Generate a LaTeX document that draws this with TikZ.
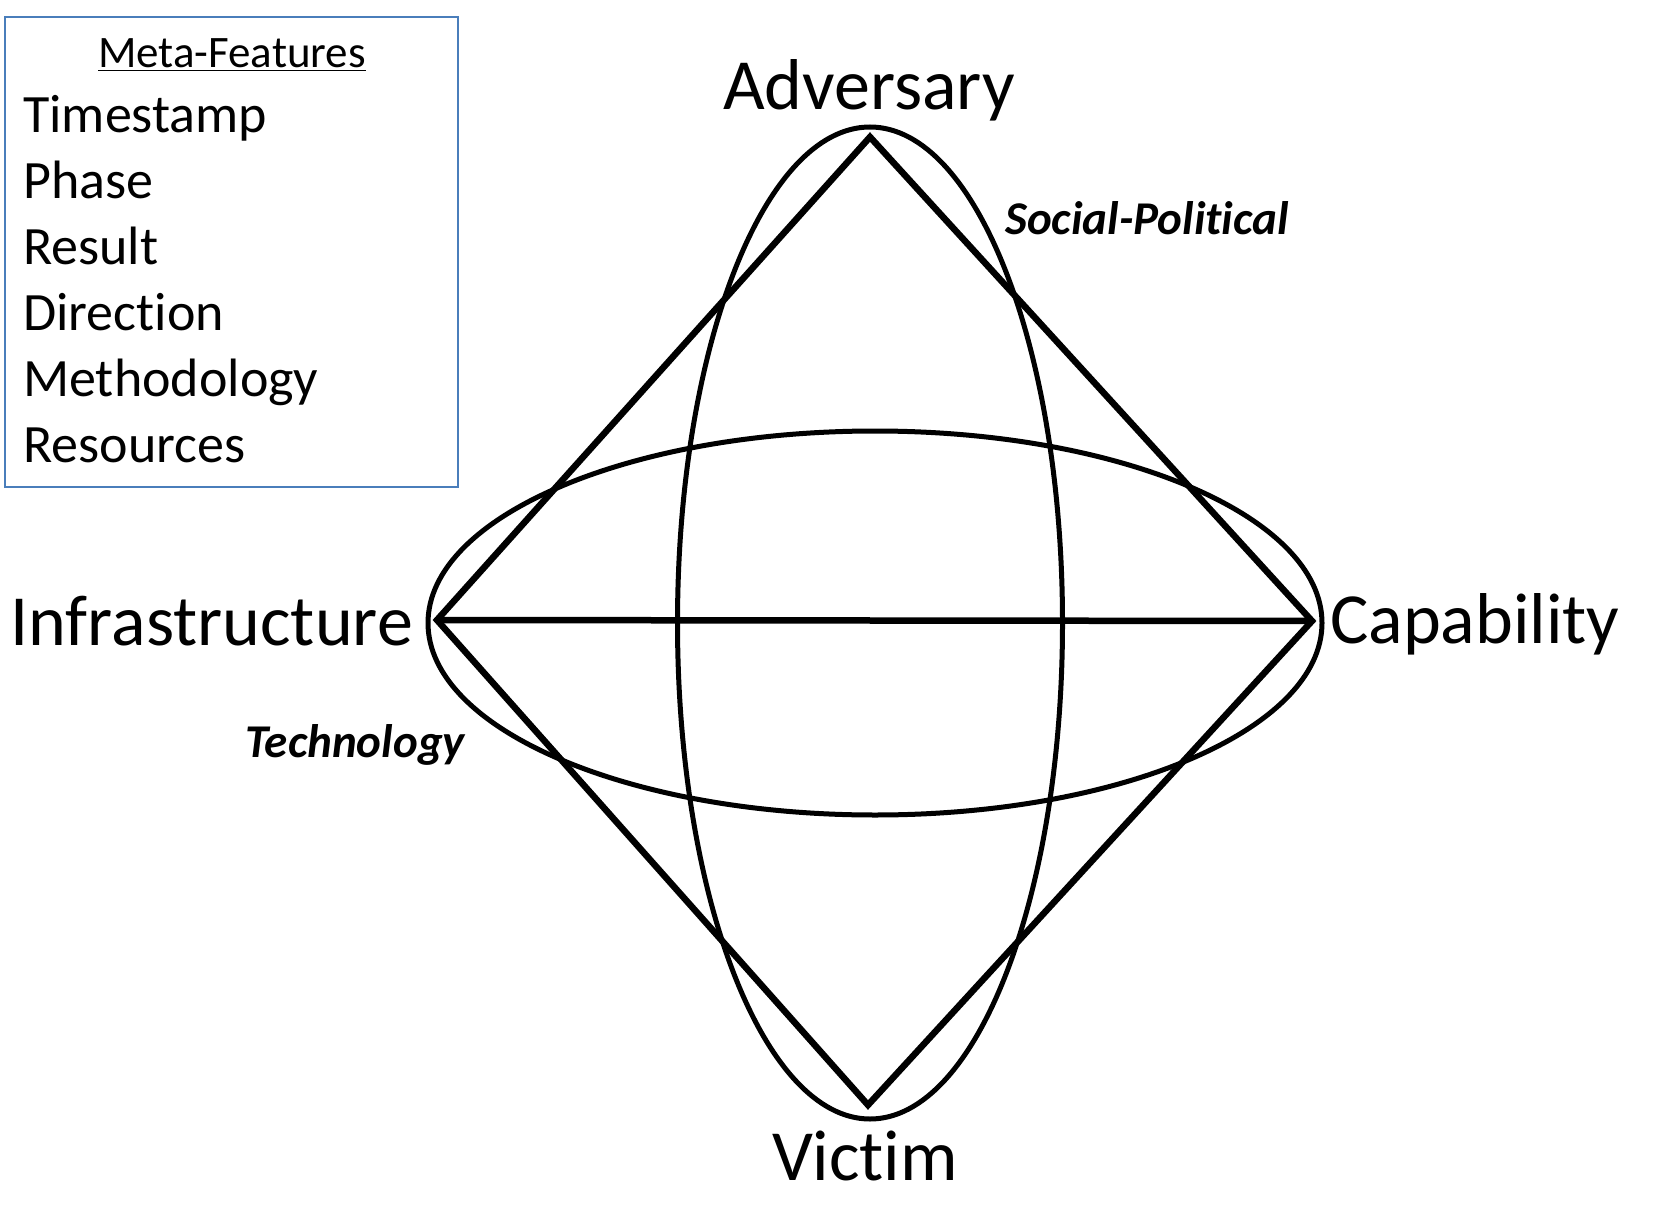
\documentclass[tikz,border=0pt]{standalone}
\usepackage{fontspec}
\setmainfont[Ligatures={NoCommon,NoContextual,NoRequired},RawFeature=-ccmp]{Carlito}
\usetikzlibrary{positioning}
\definecolor{boxblue}{HTML}{4A7EBB}

\begin{document}
\begin{tikzpicture}[x=1pt,y=-1pt,
    ring/.style={draw=black,line width=5pt},
    edge/.style={draw=black,line width=6.5pt,line join=miter},
    vertexlabel/.style={inner sep=0pt,font=\fontsize{72}{80}\selectfont},
    axislabel/.style={inner sep=0pt,font=\fontsize{47}{54}\selectfont\bfseries\itshape},
    metaitem/.style={inner sep=0pt,anchor=base west,font=\fontsize{54}{62}\selectfont}]
  \useasboundingbox (0,0) rectangle (1664,1206);

  % Vertici
  \coordinate (adv) at (870,137);
  \coordinate (cap) at (1312,621);
  \coordinate (vic) at (868,1105);
  \coordinate (inf) at (437,620);

  % Ellissi
  \draw[ring] (870,623) ellipse [x radius=192.5, y radius=496];
  \draw[ring] (875,623) ellipse [x radius=447, y radius=192];

  % Rombo
  \draw[edge] (adv) -- (cap) -- (vic) -- (inf) -- cycle;
  \draw[edge] (inf) -- (cap);

  % Etichette
  \node[vertexlabel,anchor=base] (advLabel) at (869,110) {Adversary};
  \node[vertexlabel,anchor=base west] (capLabel) at (1330,643) {Capability};
  \node[vertexlabel,anchor=base] (vicLabel) at (865,1180) {Victim};
  \node[vertexlabel,anchor=base east] (infLabel) at (413,645) {Infrastructure};
  \node[axislabel,anchor=base west] (socPol) at (1005,235) {Social-Political};
  \node[axislabel,anchor=base west] (tech) at (245,757) {Technology};

  % Meta-Features
  \draw[boxblue,line width=1.5pt] (5,17) rectangle (458,487);
  \node[inner sep=0pt,anchor=base,font=\fontsize{45}{52}\selectfont] (metaTitle) at (232,68) {\underline{Meta-Features}};
  \foreach \item [count=\i] in {Timestamp,Phase,Result,Direction,Methodology,Resources}
    \node[metaitem] (meta-\i) at (23,{133+65.8*(\i-1)}) {\item};
\end{tikzpicture}
\end{document}
